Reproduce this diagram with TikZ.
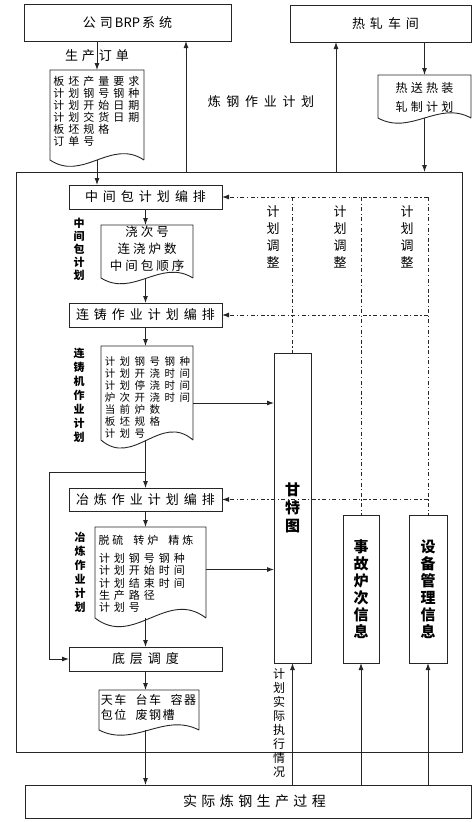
\documentclass[tikz,border=0pt]{standalone}
\usepackage{fontspec}
\setmainfont{Noto Sans CJK SC}
\usetikzlibrary{arrows.meta,calc}
\newlength\cpitch \setlength\cpitch{15pt}
\newlength\crise \setlength\crise{0pt}
\newlength\cacc
\def\spend{SPEND}
\newcommand\cjkrow[1]{\cacc=0pt\relax\cjkaux#1\spend}
\def\cjkaux#1{\ifx\spend#1\else\raisebox{\cacc}{\makebox[\cpitch]{#1}}\advance\cacc\crise\expandafter\cjkaux\fi}
\newcommand\cjkrowS[1]{\smash{\cjkrow{#1}}}
\newcommand\docout[2]{%
  \draw (#1.south east) -- (#1.north east) -- (#1.north west) -- (#1.south west)
    .. controls ($(#1.south west)!0.35!(#1.south east)+(0,#2)$) and ($(#1.south west)!0.65!(#1.south east)+(0,-#2)$) .. (#1.south east);}
\begin{document}
\begin{tikzpicture}[x=1pt,y=-1pt, line width=0.9pt, draw=black!85,
  every node/.style={inner sep=0pt, outer sep=0pt},
  arr/.style={-{Latex[length=7pt,width=5pt]}},
  dd/.style={dash pattern=on 4pt off 2.5pt on 1.2pt off 2.5pt},
  box/.style={draw, minimum width=153pt, minimum height=24pt, font=\fontsize{13}{15}\selectfont\setlength\cpitch{18pt}},
  tall/.style={draw, align=center, font=\bfseries\fontsize{15}{17}\selectfont},
  dtext/.style={align=left, anchor=north west, font=\fontsize{11}{12}\selectfont\setlength\cpitch{15pt}},
  side/.style={align=center, font=\bfseries\fontsize{11}{14}\selectfont},
  vlab/.style={align=center, font=\fontsize{13}{17}\selectfont},
  lab/.style={font=\fontsize{13}{15}\selectfont}
]
\useasboundingbox (0,0) rectangle (474,822);
\fill[white] (0,0) rectangle (474,822);

% frame
\node[draw, minimum width=446pt, minimum height=580pt] (frame) at (239,462) {};

% top boxes
\node[box, minimum width=207pt, minimum height=37pt, font=\fontsize{13}{15}\selectfont\setlength\cpitch{17pt}] (erp) at (127.5,22.5) {\cjkrow{公司}BRP\cjkrow{系统}};
\node[box, minimum width=181pt, minimum height=37pt] (hr) at (380.5,23.5) {\hspace*{10pt}\cjkrow{热轧车间}};
\node[lab] (order) at (97,56) {\setlength\cpitch{17pt}\cjkrow{生产订单}};
\node[lab] (plan) at (261,102) {\setlength\cpitch{18.7pt}\cjkrow{炼钢作业计划}};

% documents
\node[minimum width=94pt, minimum height=90pt] (d1) at (97,115) {};
\docout{d1}{22}
\node[dtext] (d1t) at (51.4,85) {\cjkrowS{板坯产量要求}\\\cjkrowS{计划钢号钢种}\\\cjkrowS{计划开始日期}\\\cjkrowS{计划交货日期}\\\cjkrowS{板坯规格}\\\cjkrowS{订单号}};

\node[minimum width=93pt, minimum height=43pt] (d2) at (424.5,96.5) {};
\docout{d2}{18}
\node[align=center, anchor=north, font=\fontsize{12}{19}\selectfont\setlength\cpitch{15.3pt}] (d2t) at (424.5,92.6) {\cjkrowS{热送热装}\\\cjkrowS{轧制计划}};

% main chain
\node[box] (zjb) at (145.5,197) {\cjkrow{中间包计划编排}};
\node[minimum width=92pt, minimum height=53pt] (dzjb) at (147,251.5) {};
\docout{dzjb}{20}
\node[align=center, anchor=north, font=\fontsize{12.5}{17}\selectfont\setlength\cpitch{15.5pt}] (dzjbt) at (147,236.8) {\cjkrowS{浇次号}\\\cjkrowS{连浇炉数}\\\cjkrowS{中间包顺序}};

\node[box] (lz) at (145.5,315) {\cjkrow{连铸作业计划编排}};
\node[minimum width=92pt, minimum height=94pt] (dlz) at (147,393) {};
\docout{dlz}{28}
\node[dtext, font=\fontsize{10.5}{12}\selectfont\setlength\cpitch{15pt}] (dlzt) at (102.5,365) {\cjkrowS{计划钢号钢种}\\\cjkrowS{计划开浇时间}\\\cjkrowS{计划停浇时间}\\\cjkrowS{炉次开浇时间}\\\cjkrowS{当前炉数}\\\cjkrowS{板坯规格}\\\cjkrowS{计划号}};

\node[box, minimum height=23pt] (yl) at (145.5,499.5) {\cjkrow{冶炼作业计划编排}};
\node[minimum width=111pt, minimum height=91pt] (dyl) at (150.5,572.5) {};
\docout{dyl}{30}
\node[dtext, font=\fontsize{11}{12.3}\selectfont\setlength\cpitch{15pt}] (dylt) at (97,544.2) {\smash{\setlength\cpitch{14pt}\cjkrow{脱硫}\hspace{7pt}\cjkrow{转炉}\hspace{7pt}\cjkrow{精炼}}\\[6pt]\cjkrowS{计划钢号钢种}\\\cjkrowS{计划开始时间}\\\cjkrowS{计划结束时间}\\\cjkrowS{生产路径}\\\cjkrowS{计划号}};

\node[box] (dc) at (145.5,659) {\cjkrow{底层调度}};
\node[minimum width=100pt, minimum height=40pt] (ddc) at (149,710) {};
\docout{ddc}{18}
\node[dtext, font=\fontsize{12}{15}\selectfont\setlength\cpitch{13.5pt}] (ddct) at (100,704.6) {\smash{\cjkrow{天车}\hspace{8pt}\cjkrow{台车}\hspace{8pt}\cjkrow{容器}}\\\smash{\cjkrow{包位}\hspace{8pt}\cjkrow{废钢槽}}};

% side labels
\node[side, font=\bfseries\fontsize{11}{13}\selectfont] (s1) at (79,249) {中\\间\\包\\计\\划};
\node[side] (s2) at (79,395) {连\\铸\\机\\作\\业\\计\\划};
\node[side] (s3) at (80,572) {冶\\炼\\作\\业\\计\\划};

% tall boxes
\node[tall, minimum width=37pt, minimum height=310pt, font=\bfseries\fontsize{15}{18}\selectfont] (gantt) at (292.5,508) {甘\\特\\图};
\node[tall, minimum width=36pt, minimum height=148pt] (acc) at (361,589) {事\\故\\炉\\次\\信\\息};
\node[tall, minimum width=38pt, minimum height=148pt] (equip) at (428,589) {设\\备\\管\\理\\信\\息};

% bottom box
\node[box, minimum width=446pt, minimum height=33pt, font=\fontsize{14}{16}\selectfont\setlength\cpitch{18.4pt}] (real) at (248,801.5) {\hspace*{13pt}\cjkrow{实际炼钢生产过程}};

% labels
\node[vlab] (adj1) at (273,237) {计\\划\\调\\整};
\node[vlab] (adj2) at (340,237) {计\\划\\调\\整};
\node[vlab] (adj3) at (407,237) {计\\划\\调\\整};
\node[align=center, font=\fontsize{12}{14}\selectfont] (exec) at (279,723) {计\\划\\实\\际\\执\\行\\情\\况};

% top connectors
\coordinate (fe) at (186,172);
\coordinate (fh) at (336,172);
\draw[arr] (d1.north |- erp.south) -- (d1.north);
\draw[arr] (fe) -- (fe |- erp.south);
\draw[arr] (fh) -- (fh |- hr.south);
\draw[arr] (d2.north |- hr.south) -- (d2.north);
\draw[arr] (d2.south) -- (d2.south |- frame.north);

% main chain connectors
\draw[arr] (d1.south) -- (d1.south |- zjb.north);
\draw[arr] (zjb.south) -- (zjb.south |- dzjb.north);
\draw[arr] (dzjb.south -| zjb.south) -- (lz.north);
\draw[arr] (lz.south) -- (lz.south |- dlz.north);
\draw[arr] (dlz.south -| lz.south) -- (yl.north);
\coordinate (jn) at (145.5,472);
\coordinate (bl) at (49,472);
\draw[arr] (jn) -- (bl) |- (dc.west);
\draw[arr] (yl.south) -- (yl.south |- dyl.north);
\draw[arr] (dyl.south -| yl.south) -- (dc.north);
\draw[arr] (dc.south) -- (dc.south |- ddc.north);
\draw[arr] (ddc.south -| dc.south) -- (real.north -| dc.south);

% to gantt
\coordinate (g1) at ($(dlz.east)+(0,10)$);
\coordinate (g2) at ($(dyl.east)+(0,-3)$);
\draw[arr] (g1) -- (g1 -| gantt.west);
\draw[arr] (g2) -- (g2 -| gantt.west);

% feedback from production
\draw[arr] (real.north -| gantt.south) -- (gantt.south);
\draw[arr] (real.north -| acc.south) -- (acc.south);
\draw[arr] (real.north -| equip.south) -- (equip.south);

% dash-dot adjustment network
\coordinate (c1) at (equip.north |- zjb.east);
\draw[dd] (gantt.north |- zjb.east) -- (gantt.north);
\draw[dd] (acc.north |- zjb.east) -- (acc.north);
\draw[dd] (c1) -- (equip.north);
\draw[dd,arr] (c1) -- (zjb.east);
\draw[dd,arr] (equip.north |- lz.east) -- (lz.east);
\draw[dd,arr] (equip.north |- yl.east) -- (yl.east);
\end{tikzpicture}
\end{document}
